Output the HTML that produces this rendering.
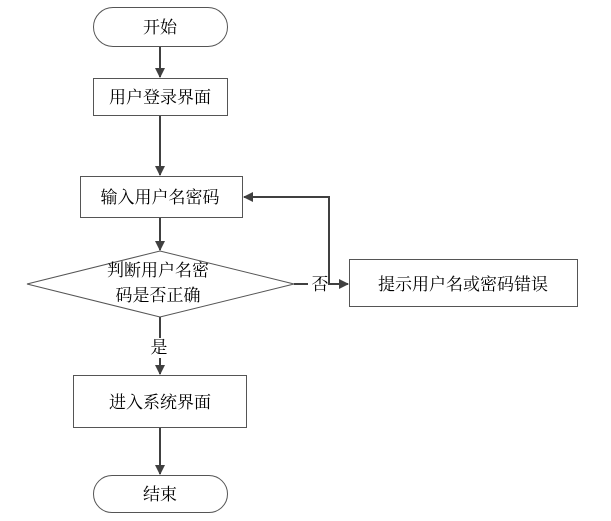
<!DOCTYPE html>
<html><head><meta charset="utf-8"><style>
html,body{margin:0;padding:0;background:#fff;}
svg text{font-family:"Liberation Serif","Noto Serif CJK SC",serif;font-size:17px;fill:#000;}
</style></head><body>
<svg width="611" height="516" viewBox="0 0 611 516" xmlns="http://www.w3.org/2000/svg">
<defs><marker id="a" markerWidth="10" markerHeight="10" refX="9" refY="5" orient="auto" markerUnits="userSpaceOnUse"><path d="M0,0 L10,5 L0,10 Z" fill="#404040"/></marker></defs>
<g fill="none" stroke="#555" stroke-width="1">
<rect x="93.5" y="7.5" width="134" height="39" rx="19.5"/>
<rect x="93.5" y="78.5" width="134" height="37"/>
<rect x="80.5" y="176.5" width="162" height="41"/>
<polygon points="27,284 160,251 294,284 160,317"/>
<rect x="349.5" y="259.5" width="228" height="47"/>
<rect x="73.5" y="375.5" width="173" height="52"/>
<rect x="93.5" y="475.5" width="134" height="37" rx="18.5"/>
</g>
<g fill="none" stroke="#404040" stroke-width="2">
<line x1="160" y1="47" x2="160" y2="77" marker-end="url(#a)"/>
<line x1="160" y1="116" x2="160" y2="175" marker-end="url(#a)"/>
<line x1="160" y1="218" x2="160" y2="250" marker-end="url(#a)"/>
<line x1="160" y1="317" x2="160" y2="338"/>
<line x1="160" y1="358" x2="160" y2="374" marker-end="url(#a)"/>
<line x1="160" y1="428" x2="160" y2="474" marker-end="url(#a)"/>
<line x1="294" y1="284" x2="308" y2="284"/>
<line x1="328" y1="284" x2="348" y2="284" marker-end="url(#a)"/>
<polyline points="329,284 329,197 244,197" marker-end="url(#a)"/>
</g>
<g text-anchor="middle">
<text x="160" y="33">开始</text>
<text x="160" y="103">用户登录界面</text>
<text x="160" y="203">输入用户名密码</text>
<text x="158" y="276">判断用户名密</text>
<text x="158" y="301">码是否正确</text>
<text x="320" y="290">否</text>
<text x="463" y="290">提示用户名或密码错误</text>
<text x="159" y="353">是</text>
<text x="160" y="408">进入系统界面</text>
<text x="160" y="500">结束</text>
</g>
</svg>
</body></html>
